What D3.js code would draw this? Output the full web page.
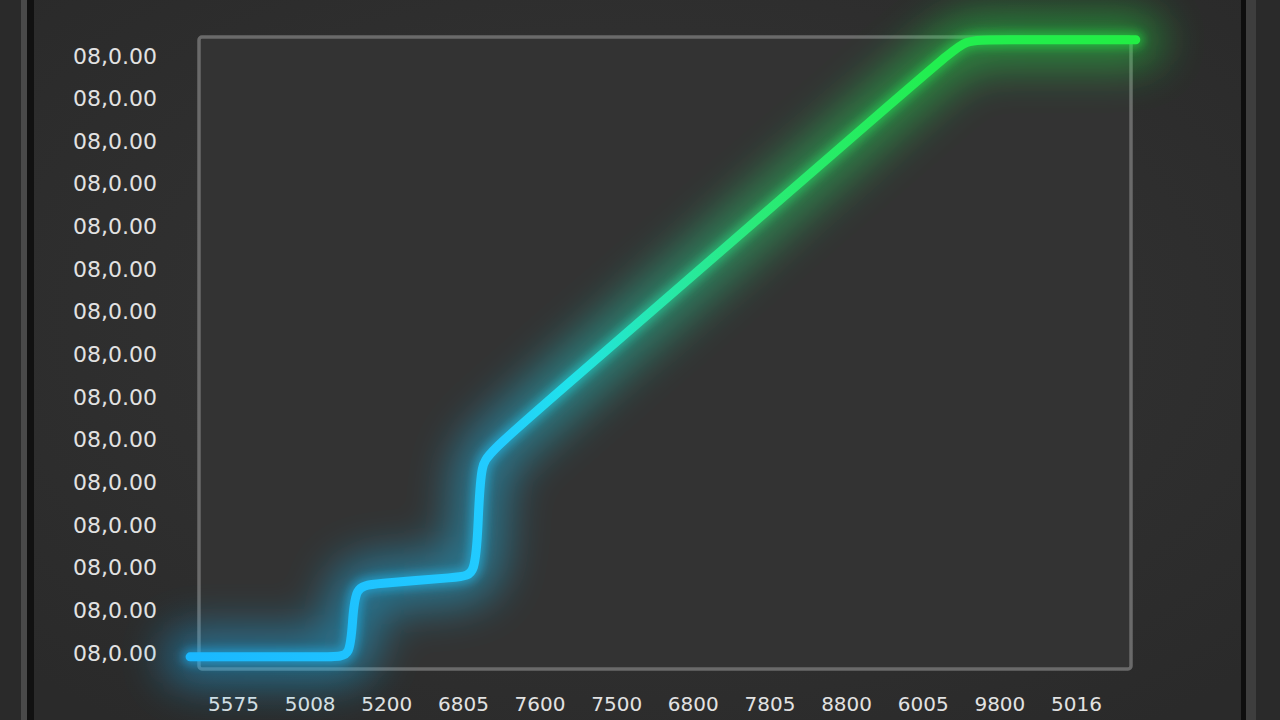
<!DOCTYPE html>
<html>
<head>
<meta charset="utf-8">
<script src="https://cdn.jsdelivr.net/npm/d3@7"></script>
<style>
  html, body { margin: 0; padding: 0; background: #2b2b2b; }
  svg { display: block; }
</style>
</head>
<body>
<svg width="1280" height="720"></svg>
<script>
const svg = d3.select('svg');
const WIDTH = +svg.attr('width');
const HEIGHT = +svg.attr('height');

// data
const xLabels = ['5575', '5008', '5200', '6805', '7600', '7500', '6800', '7805', '8800', '6005', '9800', '5016'];
const yLabels = ['08,0.00', '08,0.00', '08,0.00', '08,0.00', '08,0.00', '08,0.00', '08,0.00', '08,0.00',
                 '08,0.00', '08,0.00', '08,0.00', '08,0.00', '08,0.00', '08,0.00', '08,0.00'];
// line in axis units (x: label index, y: tick index)
const lineX = [-0.56, 1.34, 1.53, 1.56, 1.6, 1.8, 2.98, 3.16, 3.2, 3.23, 3.4, 9.3, 9.56, 9.9, 11.78];
const lineY = [-0.09, -0.09, -0.09, 0.8, 1.55, 1.62, 1.78, 1.83, 3.0, 4.52, 4.8, 14.0, 14.38, 14.38, 14.38];

const plot = {left: 199, right: 1131, top: 37, bottom: 669};

const defs = svg.append('defs');

const bgGrad = defs.append('radialGradient').attr('id', 'bg')
    .attr('cx', '50%').attr('cy', '45%').attr('r', '70%');
bgGrad.append('stop').attr('offset', '0%').attr('stop-color', '#363636');
bgGrad.append('stop').attr('offset', '100%').attr('stop-color', '#2a2a2a');

const lineGrad = defs.append('linearGradient').attr('id', 'lineGrad')
    .attr('gradientUnits', 'userSpaceOnUse')
    .attr('x1', 190).attr('y1', 0).attr('x2', 1135).attr('y2', 0);
[['0%', '#1ab8ff'], ['33%', '#22ccff'], ['40%', '#20e2ea'], ['49%', '#26e8b0'],
 ['60%', '#2aea78'], ['78%', '#22ee50'], ['100%', '#22ee44']].forEach(s => {
    lineGrad.append('stop').attr('offset', s[0]).attr('stop-color', s[1]);
});

const glow = defs.append('filter').attr('id', 'glow')
    .attr('x', '-20%').attr('y', '-20%').attr('width', '140%').attr('height', '140%');
glow.append('feGaussianBlur').attr('stdDeviation', 22);

const glowSmall = defs.append('filter').attr('id', 'glowSmall')
    .attr('x', '-10%').attr('y', '-10%').attr('width', '120%').attr('height', '120%');
glowSmall.append('feGaussianBlur').attr('stdDeviation', 5);

// background and side frames
svg.append('rect').attr('width', WIDTH).attr('height', HEIGHT).attr('fill', '#2a2a2a');
svg.append('rect').attr('x', 34).attr('y', 0).attr('width', 1208).attr('height', HEIGHT).attr('fill', 'url(#bg)');
svg.append('rect').attr('x', 21).attr('y', 0).attr('width', 6).attr('height', HEIGHT).attr('fill', '#4a4a4a');
svg.append('rect').attr('x', 27).attr('y', 0).attr('width', 7).attr('height', HEIGHT).attr('fill', '#111');
svg.append('rect').attr('x', 1241).attr('y', 0).attr('width', 5).attr('height', HEIGHT).attr('fill', '#0e0e0e');
svg.append('rect').attr('x', 1246).attr('y', 0).attr('width', 10).attr('height', HEIGHT).attr('fill', '#3e3e3e');

const xScale = d3.scalePoint().domain(xLabels.map((d, i) => i)).range([233, 1076]);
const xLin = d3.scaleLinear().domain([0, xLabels.length - 1]).range([233, 1076]);
const yScale = d3.scaleLinear().domain([0, yLabels.length - 1]).range([653, 56]);

// plot frame
svg.append('rect')
    .attr('x', plot.left).attr('y', plot.top)
    .attr('width', plot.right - plot.left).attr('height', plot.bottom - plot.top)
    .attr('rx', 3)
    .attr('fill', '#333')
    .attr('stroke', '#6a6a6a')
    .attr('stroke-width', 3.5);

// y labels
const yAxis = d3.axisLeft(yScale)
    .tickValues(yLabels.map((d, i) => i))
    .tickFormat(i => yLabels[i])
    .tickSize(0).tickPadding(0);
const yG = svg.append('g').attr('transform', 'translate(157,0)').call(yAxis);
yG.select('.domain').remove();
yG.selectAll('text')
    .attr('fill', '#e2e2e2')
    .style('font-family', 'DejaVu Sans')
    .style('font-size', '22px');

// x labels
const xAxis = d3.axisBottom(xScale)
    .tickFormat(i => xLabels[i])
    .tickSize(0).tickPadding(0);
const xG = svg.append('g').attr('transform', 'translate(0,697)').call(xAxis);
xG.select('.domain').remove();
xG.selectAll('text')
    .attr('fill', '#e2e2e2')
    .style('font-family', 'DejaVu Sans')
    .style('font-size', '20px');

// line
const pts = lineX.map((x, i) => [x, lineY[i]]);
const line = d3.line()
    .x(d => xLin(d[0]))
    .y(d => yScale(d[1]))
    .curve(d3.curveBasis);

svg.append('path').datum(pts)
    .attr('d', line)
    .attr('fill', 'none')
    .attr('stroke', 'url(#lineGrad)')
    .attr('stroke-width', 55)
    .attr('stroke-linecap', 'round')
    .attr('opacity', 0.45)
    .attr('filter', 'url(#glow)');

svg.append('path').datum(pts)
    .attr('d', line)
    .attr('fill', 'none')
    .attr('stroke', 'url(#lineGrad)')
    .attr('stroke-width', 16)
    .attr('stroke-linecap', 'round')
    .attr('opacity', 0.5)
    .attr('filter', 'url(#glowSmall)');

svg.append('path').datum(pts)
    .attr('d', line)
    .attr('fill', 'none')
    .attr('stroke', 'url(#lineGrad)')
    .attr('stroke-width', 9)
    .attr('stroke-linecap', 'round')
    .attr('stroke-linejoin', 'round');
</script>
</body>
</html>
